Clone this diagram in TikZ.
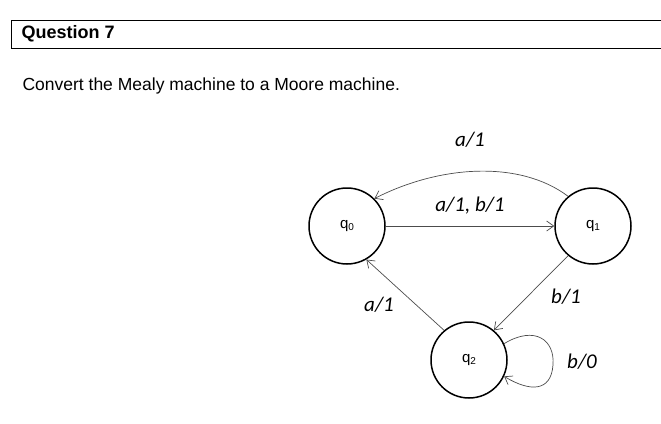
\documentclass[tikz,border=0pt]{standalone}
\usepackage{fontspec}
\setmainfont{Liberation Sans}
\newfontfamily\calibrifam{Carlito}
\usetikzlibrary{arrows.meta}
\newcommand{\qsub}[1]{q\raisebox{-2.5pt}{\fontsize{10}{10}\selectfont #1}}
\begin{document}
\begin{tikzpicture}[x=1pt,y=-1pt,
 st/.style={circle,draw,line width=1.5pt,minimum size=76pt,inner sep=0pt,font=\fontsize{15}{17}\selectfont},
 tr/.style={draw=black!70,line width=0.7pt,-{Straight Barb[length=7pt,width=10pt]}},
 lb/.style={font=\calibrifam\itshape\fontsize{21}{24}\selectfont}]
\useasboundingbox (0,0) rectangle (661,423);
\draw[line width=0.8pt] (662,20) -- (11,20) -- (11,48) -- (662,48);
\node[anchor=west,font=\bfseries\fontsize{18}{20}\selectfont] (h) at (18,34) {Question 7};
\node[anchor=west,font=\fontsize{17.5}{20}\selectfont] (t) at (19,86) {Convert the Mealy machine to a Moore machine.};
\node[st] (q0) at (347,226) {\qsub{0}};
\node[st] (q1) at (593,226) {\qsub{1}};
\node[st] (q2) at (469,360) {\qsub{2}};
\draw[tr] (q1.130) .. controls (520,160) and (440,165) .. (q0.45);
\draw[tr] (q0) -- (q1);
\draw[tr] (q1.230) -- (q2.50);
\draw[tr] (q2.130) -- (q0.300);
\draw[tr] (q2.25) .. controls (535,325) and (555,340) .. (553,365) .. controls (551,392) and (530,392) .. (q2.335);
\node[lb] (l1) at (470,140) {a/1};
\node[lb] (l2) at (470,206) {a/1, b/1};
\node[lb] (l3) at (566,297) {b/1};
\node[lb] (l4) at (379,305) {a/1};
\node[lb] (l5) at (582,362) {b/0};
\end{tikzpicture}
\end{document}
